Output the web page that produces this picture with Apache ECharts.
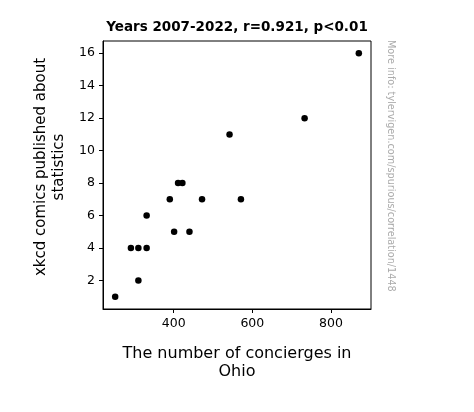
<!DOCTYPE html>
<html>
<head>
<meta charset="utf-8">
<script src="https://cdn.jsdelivr.net/npm/echarts@6/dist/echarts.min.js"></script>
<style>
  html, body { margin: 0; padding: 0; background: #fff; }
  #chart { width: 474px; height: 412px; }
</style>
</head>
<body>
<div id="chart"></div>
<script>
// concierges in Ohio (x) vs xkcd statistics comics (y), 2007-2022
const years = [2007, 2008, 2009, 2010, 2011, 2012, 2013, 2014, 2015, 2016, 2017, 2018, 2019, 2020, 2021, 2022];
const concierges = [251, 291, 310, 331, 310, 331, 390, 401, 411, 422, 440, 472, 542, 571, 733, 871];
const comics = [1, 4, 4, 4, 2, 6, 7, 5, 8, 8, 5, 7, 11, 7, 12, 16];
const xTicks = [400, 600, 800];
const yTicks = [2, 4, 6, 8, 10, 12, 14, 16];

const font = 'DejaVu Sans';
const points = concierges.map((x, i) => [x, comics[i], years[i]]);

const chart = echarts.init(document.getElementById('chart'));

const option = {
    animation: false,
    backgroundColor: '#fff',
    title: {
        text: 'Years 2007-2022, r=0.921, p<0.01',
        left: 'center',
        top: 15,
        textStyle: { fontFamily: font, fontSize: 13.5, fontWeight: 'bold', color: '#000' }
    },
    grid: {
        left: 103, right: 103, top: 41, bottom: 103,
        show: true, borderColor: '#000', borderWidth: 1
    },
    xAxis: {
        type: 'value',
        min: 220,
        max: 902,
        name: 'The number of concierges in\nOhio',
        nameLocation: 'middle',
        nameGap: 36,
        nameTextStyle: { fontFamily: font, fontSize: 16, lineHeight: 18, color: '#000' },
        axisLine: { show: true, lineStyle: { color: '#000' } },
        axisTick: { show: true, inside: false, length: 4, customValues: xTicks, lineStyle: { color: '#000' } },
        axisLabel: { customValues: xTicks, margin: 8, fontFamily: font, fontSize: 12.5, color: '#000' },
        splitLine: { show: false }
    },
    yAxis: {
        type: 'value',
        min: 0.25,
        max: 16.75,
        name: 'xkcd comics published about\nstatistics',
        nameLocation: 'middle',
        nameRotate: 90,
        nameGap: 31,
        nameTextStyle: {
            fontFamily: font, fontSize: 15, lineHeight: 18, color: '#000',
            padding: [0, 0, 0, 16]
        },
        axisLine: { show: true, lineStyle: { color: '#000' } },
        axisTick: { show: true, inside: false, length: 4, customValues: yTicks, lineStyle: { color: '#000' } },
        axisLabel: { customValues: yTicks, margin: 8, fontFamily: font, fontSize: 12.5, color: '#000' },
        splitLine: { show: false }
    },
    graphic: [{
        type: 'text',
        x: 391,
        y: 40,
        rotation: -Math.PI / 2,
        style: {
            text: 'More info: tylervigen.com/spurious/correlation/1448',
            fontFamily: font,
            fontSize: 9.7,
            fill: '#aaa',
            align: 'left',
            verticalAlign: 'middle'
        }
    }],
    series: [{
        type: 'scatter',
        data: points,
        symbolSize: 6.5,
        itemStyle: { color: '#000', opacity: 1 }
    }]
};

chart.setOption(option);
</script>
</body>
</html>
